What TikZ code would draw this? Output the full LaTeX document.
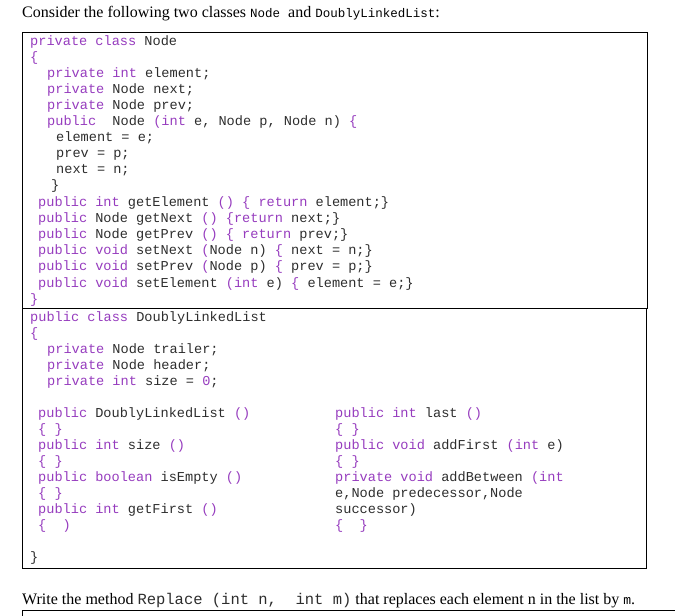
\documentclass[tikz,border=0pt]{standalone}
\usepackage{fontspec}
\setmainfont{Liberation Serif}
\setmonofont{Liberation Mono}
\definecolor{kw}{RGB}{150,60,190}
\definecolor{tx}{RGB}{45,45,45}
\newcommand\K[1]{\textcolor{kw}{#1}}
\begin{document}
\begin{tikzpicture}[x=1pt,y=-1pt,
  code/.style={anchor=base west,inner sep=0pt,font=\ttfamily\fontsize{13.6}{16}\selectfont,text=tx},
  prose/.style={anchor=base west,inner sep=0pt,font=\fontsize{16}{18}\selectfont,text=black},
  frame/.style={draw=black,line width=0.9pt}]
\useasboundingbox (0,0) rectangle (675,616);
\node[prose] (t1) at (22,17) {Consider the following two classes {\ttfamily\fontsize{12.5}{14}\selectfont Node}~ and {\ttfamily\fontsize{12.5}{14}\selectfont DoublyLinkedList}:};
\draw[frame] (22,32) rectangle (647,308);
\draw[frame] (22,308) rectangle (646,568);
\draw[frame] (22,620) -- (22,610) -- (680,610);
% class Node
\node[code] (a1) at (30,45) {\K{private class} Node};
\node[code] (a2) at (30,61) {\K{\{}};
\node[code] (a3) at (47,77) {\K{private int} element;};
\node[code] (a4) at (47,93) {\K{private} Node next;};
\node[code] (a5) at (47,109) {\K{private} Node prev;};
\node[code] (a6) at (47,125) {\K{public}~~Node \K{(int} e, Node p, Node n) \K{\{}};
\node[code] (a7) at (56,141) {element = e;};
\node[code] (a8) at (56,157) {prev = p;};
\node[code] (a9) at (56,173) {next = n;};
\node[code] (a10) at (51,189) {\}};
\node[code] (a11) at (38,206) {\K{public int} getElement \K{()} \K{\{ return} element;\}};
\node[code] (a12) at (38,222) {\K{public} Node getNext \K{()} \K{\{return} next;\}};
\node[code] (a13) at (38,238) {\K{public} Node getPrev \K{()} \K{\{ return} prev;\}};
\node[code] (a14) at (38,254) {\K{public void} setNext \K{(}Node n) \K{\{} next = n;\}};
\node[code] (a15) at (38,270) {\K{public void} setPrev \K{(}Node p) \K{\{} prev = p;\}};
\node[code] (a16) at (38,287) {\K{public void} setElement \K{(int} e) \K{\{} element = e;\}};
\node[code] (a17) at (30,303) {\K{\}}};
% class DoublyLinkedList
\node[code] (b1) at (30,321) {\K{public class} DoublyLinkedList};
\node[code] (b2) at (30,337) {\K{\{}};
\node[code] (b3) at (47,353) {\K{private} Node trailer;};
\node[code] (b4) at (47,369) {\K{private} Node header;};
\node[code] (b5) at (47,385) {\K{private int} size = \K{0};};
\node[code] (b6) at (38,417) {\K{public} DoublyLinkedList \K{()}};
\node[code] (b7) at (38,433) {\K{\{ \}}};
\node[code] (b8) at (38,449) {\K{public int} size \K{()}};
\node[code] (b9) at (38,465) {\K{\{ \}}};
\node[code] (b10) at (38,481) {\K{public boolean} isEmpty \K{()}};
\node[code] (b11) at (38,497) {\K{\{ \}}};
\node[code] (b12) at (38,513) {\K{public int} getFirst \K{()}};
\node[code] (b13) at (38,529) {\K{\{~~)}};
\node[code] (c1) at (335,417) {\K{public int} last \K{()}};
\node[code] (c2) at (335,433) {\K{\{ \}}};
\node[code] (c3) at (335,449) {\K{public void} addFirst \K{(int} e)};
\node[code] (c4) at (335,465) {\K{\{ \}}};
\node[code] (c5) at (335,481) {\K{private void} addBetween \K{(int}};
\node[code] (c6) at (335,497) {e,Node predecessor,Node};
\node[code] (c7) at (335,513) {successor)};
\node[code] (c8) at (335,529) {\K{\{~~\}}};
\node[code] (b14) at (30,561) {\}};
\node[prose] (t2) at (22,604) {Write the method {\ttfamily\fontsize{15.5}{16}\selectfont\color{tx}Replace (int n,~~int m)} that replaces each element n in the list by {\ttfamily\fontsize{13}{14}\selectfont m}.};
\end{tikzpicture}
\end{document}
